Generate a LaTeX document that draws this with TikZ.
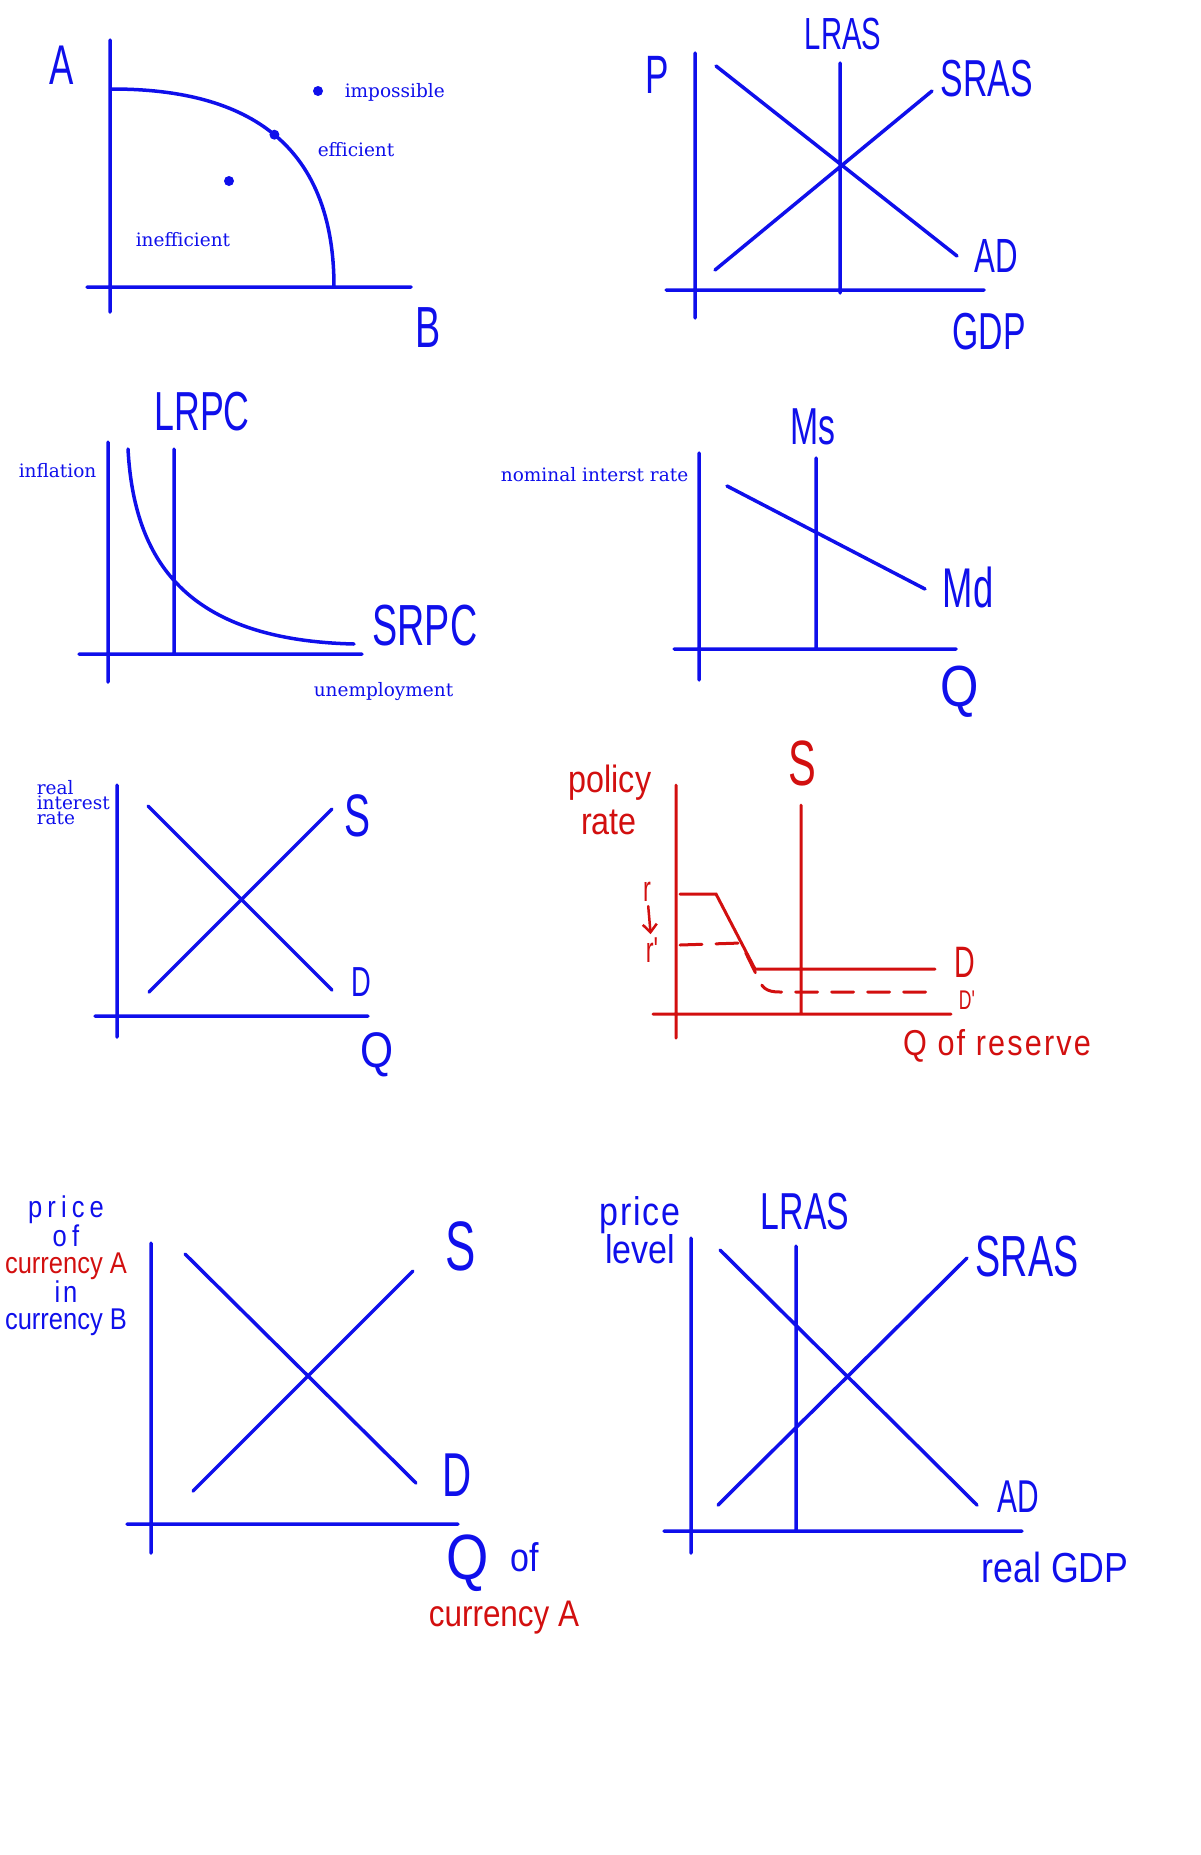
\documentclass[tikz,border=0pt]{standalone}
\usepackage{fontspec}
\setmainfont{DejaVu Serif}
\newfontfamily\handfont[FakeStretch=0.65]{Liberation Sans}
\newfontfamily\handbreit[FakeStretch=0.85]{Liberation Sans}
\usetikzlibrary{arrows.meta, positioning}

\definecolor{stift}{RGB}{15,15,235}
\definecolor{rotstift}{RGB}{210,15,15}

\newcommand{\sperr}[2]{{\addfontfeature{LetterSpace=#1}#2}}

\begin{document}
\begin{tikzpicture}[x=1pt, y=-1pt,
  linie/.style={line width=3.5pt, line cap=round},
  druck/.style={font=\fontsize{18.5}{15}\selectfont, inner sep=0pt},
  hand/.style={font={\handfont\fontsize{#1}{#1}\selectfont}, inner sep=0pt},
  breit/.style={font={\handbreit\fontsize{#1}{#1}\selectfont}, inner sep=0pt},
  punkt/.style={circle, fill=stift, inner sep=0pt, minimum size=10pt}]

  \useasboundingbox (0,0) rectangle (1200,1855);

  % Produktionsmoeglichkeiten
  \draw[linie, stift]
  (110,40) -- (110,312)
  (87,287) -- (411,287)
  (112,89) .. controls (230,89) and (334,130) .. (334,287)
        node[punkt, pos=0.53] (effpunkt) {}
  (318,91) node[punkt] (unmpunkt) {}
  (229,181) node[punkt] (ineffpunkt) {}
  (343,97) node[druck, anchor=base west] (unmoeglich) {impossible}
  (316,156) node[druck, anchor=base west] (effizient) {efficient}
  (134,246) node[druck, anchor=base west] (ineffizient) {inefficient}
  (62,65) node[hand=56] (gutA) {A}
  (428,328) node[hand=58] (gutB) {B};

  % AS-AD
  \draw[linie, stift]
  (695,53) -- (695,318)
  (666,290) -- (984,290)
  (840,63) -- (840,293)
  (716,66) -- (957,256)
  (715,270) -- (932,91)
  (657,75) node[hand=54] (asP) {P}
  (843,34) node[hand=45] (asLRAS) {LRAS}
  (987,79) node[hand=52] (asSRAS) {SRAS}
  (996,256) node[hand=48] (asAD) {AD}
  (989,332) node[hand=52] (asGDP) {GDP};

  % Phillipskurve
  \draw[linie, stift]
  (108,442) -- (108,682)
  (79,654) -- (362,654)
  (174,449) -- (174,654)
  (128,449) .. controls (134,560) and (185,640) .. (354,644)
  (17,477) node[druck, anchor=base west] (inflation) {inflation}
  (312,696) node[druck, anchor=base west] (arbeitslos) {unemployment}
  (202,412) node[hand=55] (lrpc) {LRPC}
  (425,626) node[hand=58] (srpc) {SRPC};

  % Geldmarkt
  \draw[linie, stift]
  (699,453) -- (699,680)
  (674,649) -- (956,649)
  (816,458) -- (816,649)
  (727,486) -- (925,589)
  (690,481) node[druck, anchor=base east] (nominal) {nominal interst rate}
  (813,427) node[hand=52] (ms) {Ms}
  (968,587) node[hand=56] (md) {Md}
  (960,692) node[breit=58] (geldQ) {Q};

  % Kreditmarkt
  \draw[linie, stift]
  (117,785) -- (117,1037)
  (95,1016) -- (368,1016)
  (148,806) -- (332,990)
  (149,992) -- (332,809)
  (35,779) node[druck, anchor=north west, align=left] (realzins) {real\\interest\\rate}
  (358,816) node[hand=60] (kreditS) {S}
  (361,982) node[hand=42] (kreditD) {D}
  (377,1055) node[breit=50] (kreditQ) {Q};

  % Reserven
  \draw[linie, rotstift, line width=3pt]
  (676,785) -- (676,1038)
  (653,1014) -- (951,1014)
  (801,805) -- (801,1014)
  (680,894) -- (716,894) -- (755,969) -- (935,969)
  (802,763) node[hand=64] (resS) {S}
  (965,962) node[hand=44] (resD) {D}
  (967,1000) node[hand=27] (resD2) {D'}
  (647,892) node[hand=36] (zinsR) {r}
  (652,950) node[hand=36] (zinsR2) {r'}
  (610,783) node[breit=38] (policy) {policy}
  (609,822) node[breit=38] (rate) {rate}
  (997,1046) node[breit=36] (reserve) {\sperr{6}{Q of reserve}};
  \draw[linie, rotstift, line width=3pt, dash pattern=on 22pt off 14pt]
  (680,945) -- (741,943) -- (757,976)
        .. controls (762,988) and (766,992) .. (780,992) -- (937,992);
  \draw[rotstift, line width=2.5pt, line cap=round,
        -{Straight Barb[length=8pt, width=14pt]}, shorten <=3pt, shorten >=2pt]
  (zinsR) -- (zinsR2);

  % Devisenmarkt
  \draw[linie, stift]
  (151,1243) -- (151,1553)
  (127,1524) -- (458,1524)
  (185,1254) -- (416,1483)
  (193,1491) -- (413,1271)
  (66,1266) node[inner sep=0pt, align=center, font={\handbreit\fontsize{30}{27}\selectfont}]
        (preisA) {\sperr{17}{price}\\\sperr{18}{of}\\\textcolor{rotstift}{currency A}\\
                  \sperr{10}{in}\\currency B}
  (461,1246) node[hand=70] (devS) {S}
  (457,1475) node[hand=62] (devD) {D}
  (468,1563) node[breit=64] (devQ) {Q}
  (525,1557) node[breit=40] (devOf) {of}
  (504,1618) node[breit=37, text=rotstift] (devWaehrung) {currency A};

  % Preisniveau
  \draw[linie, stift]
  (691,1238) -- (691,1553)
  (664,1531) -- (1022,1531)
  (796,1246) -- (796,1531)
  (720,1250) -- (977,1505)
  (718,1505) -- (967,1258)
  (640,1230) node[inner sep=0pt, align=center, font={\handbreit\fontsize{40}{36}\selectfont}]
        (preisniveau) {\sperr{4}{price}\\level}
  (805,1212) node[hand=52] (lras2) {LRAS}
  (1027,1257) node[hand=58] (sras2) {SRAS}
  (1018,1497) node[hand=46] (ad2) {AD}
  (1055,1567) node[breit=42] (realGDP) {real GDP};
\end{tikzpicture}
\end{document}
